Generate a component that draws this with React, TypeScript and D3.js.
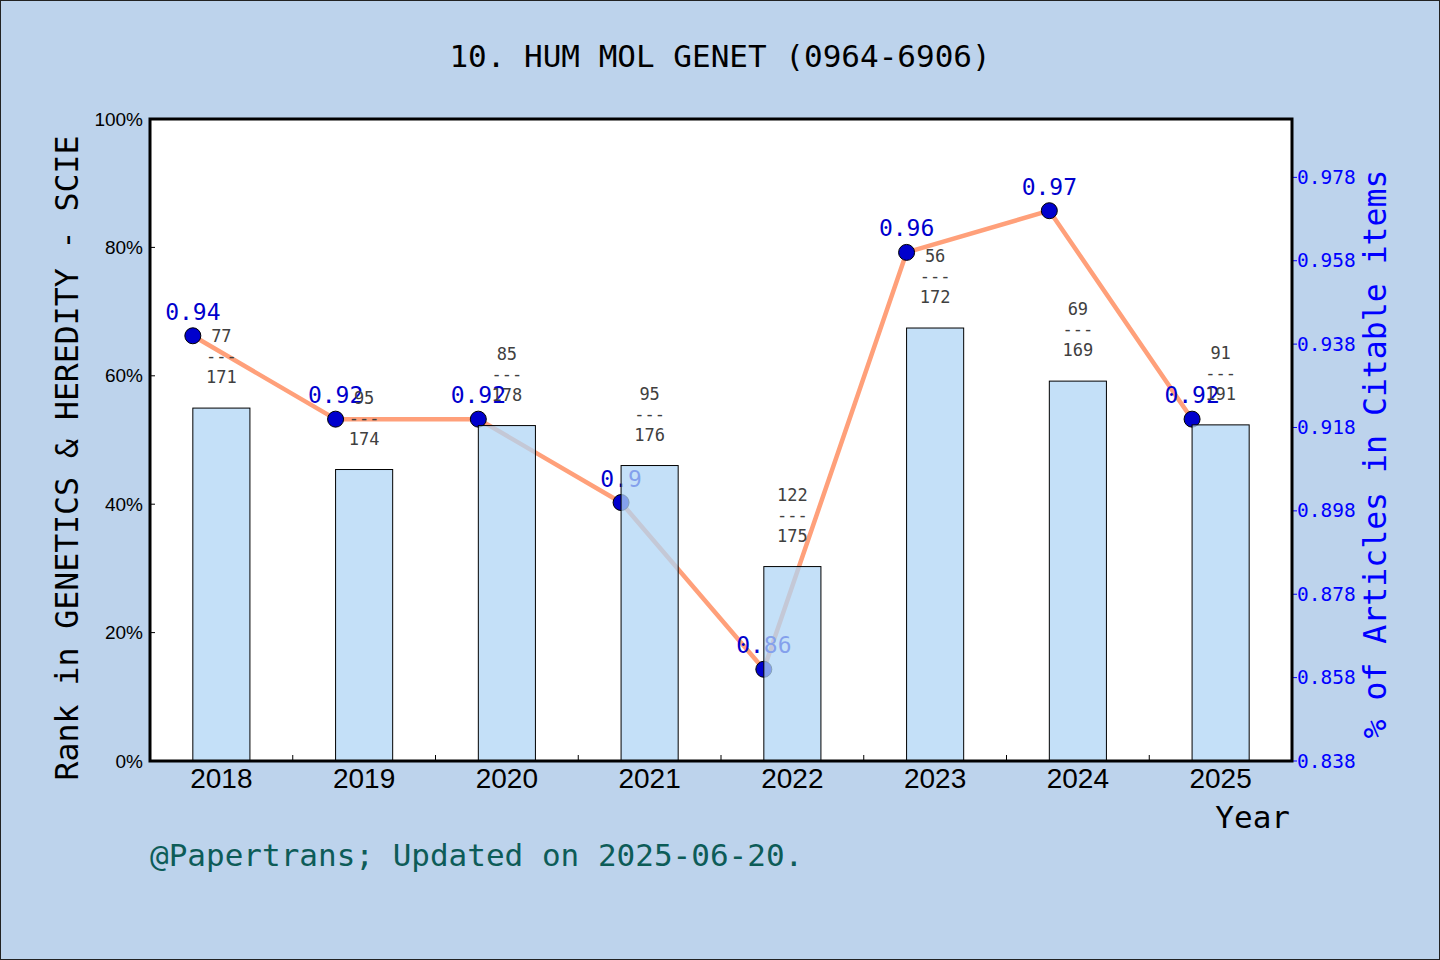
import React, { useEffect } from "react";
import * as d3 from "d3";

const years = ["2018", "2019", "2020", "2021", "2022", "2023", "2024", "2025"];
const ranks = [77, 95, 85, 95, 122, 56, 69, 91];
const totals = [171, 174, 178, 176, 175, 172, 169, 191];
const citable = [0.94, 0.92, 0.92, 0.9, 0.86, 0.96, 0.97, 0.92];
const leftTicks = [0, 20, 40, 60, 80, 100];
const rightTicks = [0.838, 0.858, 0.878, 0.898, 0.918, 0.938, 0.958, 0.978];

const W = 1440;
const H = 960;
const X0 = 150;
const X1 = 1292;
const Y0 = 119;
const Y1 = 761;
const MONO = "'DejaVu Sans Mono', monospace";
const SANS = "'Liberation Sans', Arial, sans-serif";

export default function App() {
  useEffect(() => {
    document.body.style.margin = "0";
  }, []);

  const x = d3.scaleBand<string>().domain(years).range([X0, X1]).paddingInner(0).paddingOuter(0);
  const bw = x.bandwidth();
  const yL = d3.scaleLinear().domain([0, 100]).range([Y1, Y0]);
  const yR = d3.scaleLinear().domain([0.838, 0.992]).range([Y1, Y0]);

  const pct = years.map((_, i) => ((totals[i] - ranks[i]) / totals[i]) * 100);
  const px = (i: number) => (x(years[i]) as number) + bw * 0.3;
  const pts: [number, number][] = years.map((_, i) => [px(i), yR(citable[i])]);
  const linePath = d3.line()(pts) || "";

  const boundaries = years.slice(1).map((yr) => x(yr) as number);

  return (
    <div style={{ position: "absolute", left: 0, top: 0 }}>
      <svg width={W} height={H} style={{ display: "block" }}>
        <rect x={0.5} y={0.5} width={W - 1} height={H - 1} fill="#BDD3EC" stroke="#222" strokeWidth={1} />
        <rect x={X0} y={Y0} width={X1 - X0} height={Y1 - Y0} fill="#ffffff" />

        {/* title */}
        <text x={720} y={67} textAnchor="middle" fontFamily={MONO} fontSize={31} fill="#000">
          10. HUM MOL GENET (0964-6906)
        </text>

        {/* line + markers + value labels (under bars) */}
        <path d={linePath} fill="none" stroke="#FFA07A" strokeWidth={4.5} strokeLinejoin="round" />
        {pts.map((p, i) => (
          <circle key={"c" + i} cx={p[0]} cy={p[1]} r={8} fill="#0000CD" stroke="#000" strokeWidth={1} />
        ))}
        {pts.map((p, i) => (
          <text key={"v" + i} x={p[0]} y={p[1] - 16} textAnchor="middle" fontFamily={MONO} fontSize={23} fill="#0000CD">
            {String(citable[i])}
          </text>
        ))}

        {/* bars */}
        {years.map((yr, i) => (
          <rect
            key={"b" + yr}
            x={(x(yr) as number) + bw * 0.3}
            y={yL(pct[i])}
            width={bw * 0.4}
            height={Y1 - yL(pct[i])}
            fill="rgba(176,214,245,0.75)"
            stroke="#000"
            strokeWidth={1}
          />
        ))}

        {/* fraction labels */}
        {years.map((yr, i) => {
          const cx = (x(yr) as number) + bw / 2;
          const top = yL(pct[i]);
          return (
            <text key={"f" + yr} textAnchor="middle" fontFamily={MONO} fontSize={17} fill="#404040" dominantBaseline="central">
              <tspan x={cx} y={top - 72}>{String(ranks[i])}</tspan>
              <tspan x={cx} y={top - 52}>---</tspan>
              <tspan x={cx} y={top - 31}>{String(totals[i])}</tspan>
            </text>
          );
        })}

        {/* left ticks */}
        {leftTicks.map((t) => (
          <g key={"lt" + t}>
            <line x1={X0} x2={X0 + 5} y1={yL(t)} y2={yL(t)} stroke="#000" strokeWidth={1} />
            <text x={X0 - 7} y={yL(t)} textAnchor="end" dominantBaseline="central" fontFamily={SANS} fontSize={19} fill="#000">
              {t + "%"}
            </text>
          </g>
        ))}

        {/* bottom minor ticks */}
        {boundaries.map((b, i) => (
          <line key={"bt" + i} x1={b} x2={b} y1={Y1} y2={Y1 - 6} stroke="#000" strokeWidth={1} />
        ))}
        {years.map((yr) => (
          <text key={"xt" + yr} x={(x(yr) as number) + bw / 2} y={788} textAnchor="middle" fontFamily={SANS} fontSize={28} fill="#000">
            {yr}
          </text>
        ))}

        {/* right ticks */}
        {rightTicks.map((t) => (
          <g key={"rt" + t}>
            <line x1={X1} x2={X1 + 5} y1={yR(t)} y2={yR(t)} stroke="#0000FF" strokeWidth={1} />
            <text x={X1 + 5} y={yR(t)} dominantBaseline="central" fontFamily={MONO} fontSize={19.5} fill="#0000FF">
              {t.toFixed(3)}
            </text>
          </g>
        ))}

        {/* frame */}
        <rect x={X0} y={Y0} width={X1 - X0} height={Y1 - Y0} fill="none" stroke="#000" strokeWidth={3} />

        {/* axis labels */}
        <text transform={`translate(78,458) rotate(-90)`} textAnchor="middle" fontFamily={MONO} fontSize={31.5} fill="#000">
          Rank in GENETICS &amp; HEREDITY - SCIE
        </text>
        <text transform={`translate(1386,454) rotate(-90)`} textAnchor="middle" fontFamily={MONO} fontSize={31.5} fill="#0000FF">
          % of Articles in Citable items
        </text>
        <text x={1290} y={828} textAnchor="end" fontFamily={MONO} fontSize={31} fill="#000">
          Year
        </text>
        <text x={150} y={866} fontFamily={MONO} fontSize={31} fill="#0D5C58">
          @Papertrans; Updated on 2025-06-20.
        </text>
      </svg>
    </div>
  );
}
